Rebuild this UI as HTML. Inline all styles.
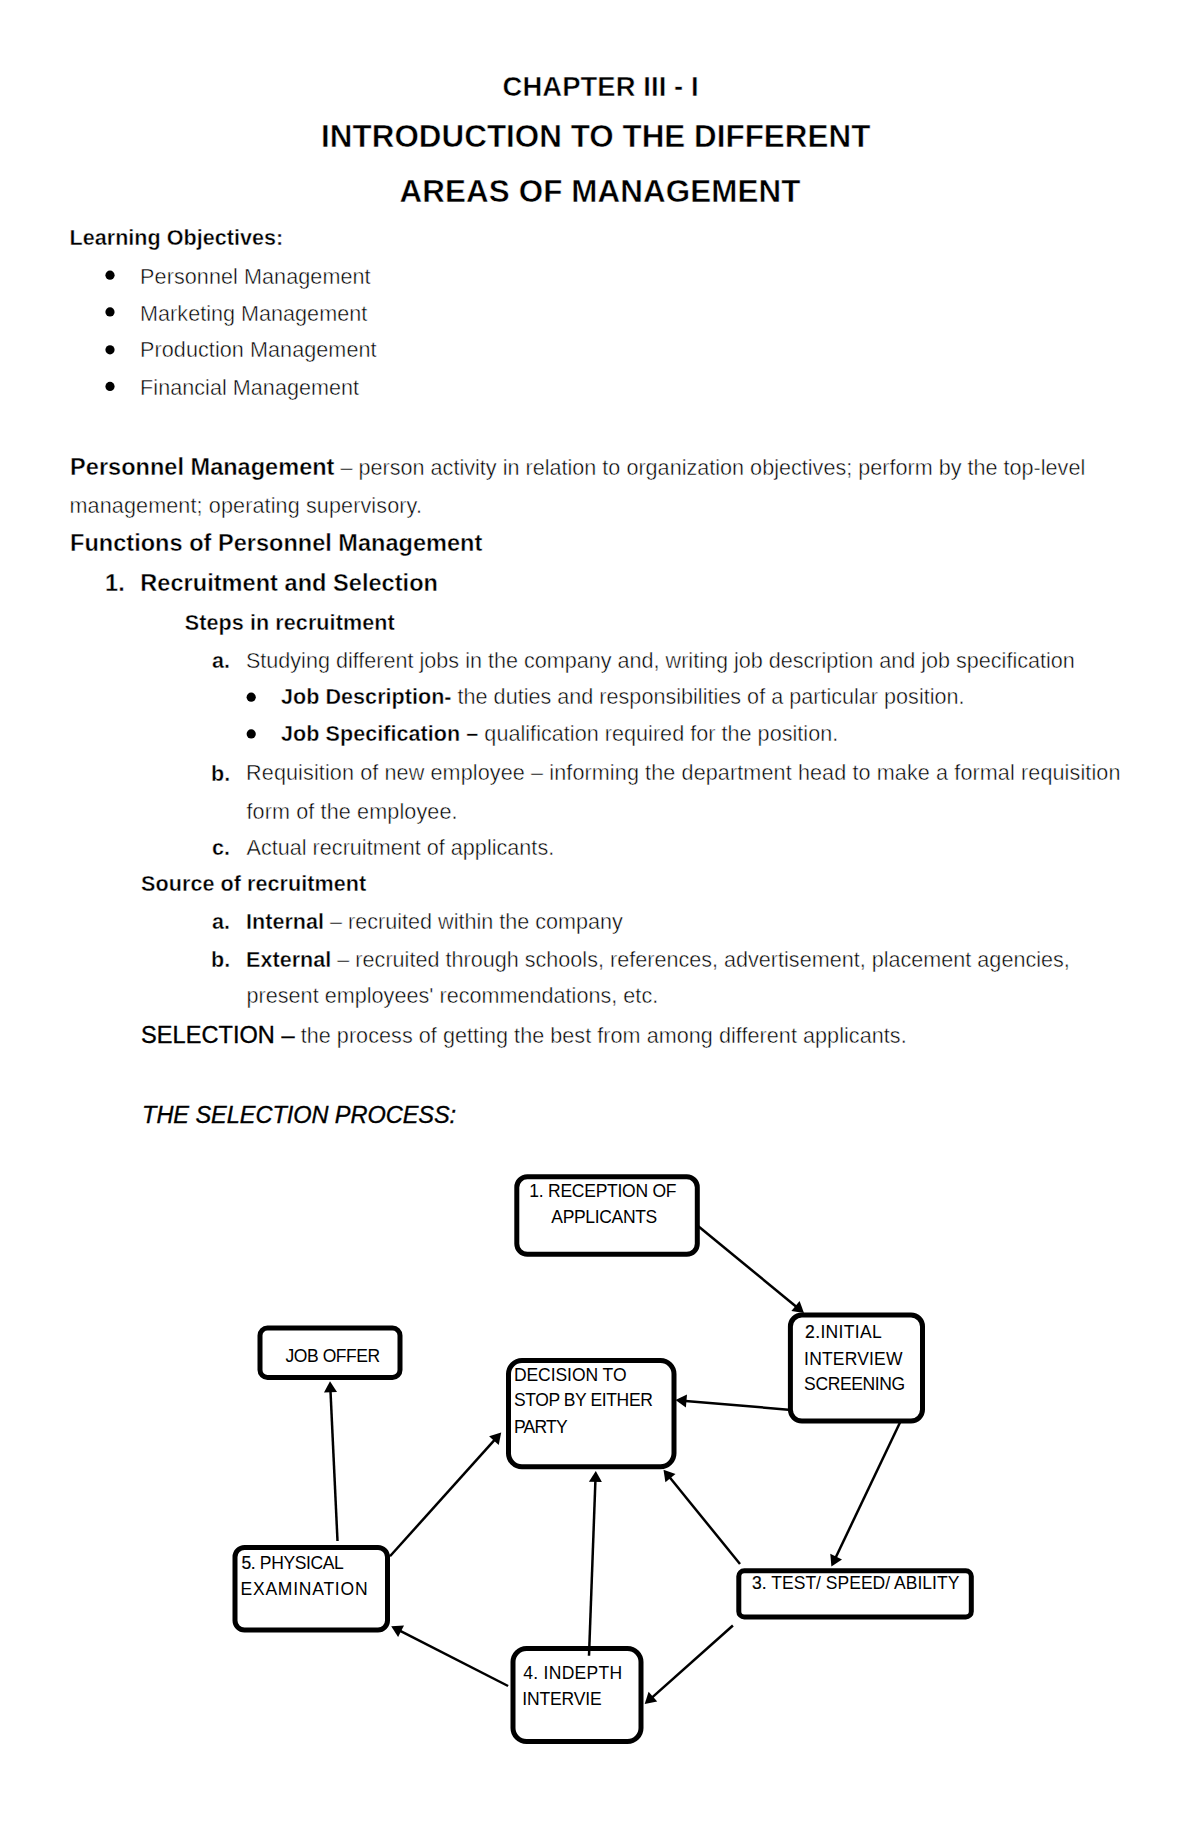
<!DOCTYPE html>
<html><head><meta charset="utf-8"><style>
html,body{margin:0;padding:0;background:#fff;}
body{width:1200px;height:1835px;position:relative;overflow:hidden;font-family:"Liberation Sans",sans-serif;color:#000;}
.l{position:absolute;white-space:nowrap;line-height:1.15;}
.l i{display:inline-block;width:0;height:0;}
.l{-webkit-text-stroke:0.4px #fff;}
.r{-webkit-text-stroke:0.45px #fff;}
.r b{-webkit-text-stroke:0.4px #fff;}
.t{-webkit-text-stroke:0.5px #fff;}
.d{-webkit-text-stroke:0;}
.d b{font-weight:normal;-webkit-text-stroke:0.2px #000;}
svg{position:absolute;left:0;top:0;}
</style></head><body>

<svg width="1200" height="1835" viewBox="0 0 1200 1835">
<circle cx="110" cy="275.2" r="4.6" fill="#000"/>
<circle cx="110" cy="311.9" r="4.6" fill="#000"/>
<circle cx="110" cy="349.8" r="4.6" fill="#000"/>
<circle cx="110" cy="386.4" r="4.6" fill="#000"/>
<circle cx="251.2" cy="697.2" r="4.6" fill="#000"/>
<circle cx="251.2" cy="733.9" r="4.6" fill="#000"/>
<rect x="516.8" y="1176.8" width="180.5" height="77.5" rx="10.5" ry="10.5" fill="none" stroke="#000" stroke-width="5"/>
<rect x="790.4" y="1315.0" width="132.1" height="106.1" rx="11.5" ry="11.5" fill="none" stroke="#000" stroke-width="5"/>
<rect x="260.0" y="1328.0" width="140.0" height="49.5" rx="7.5" ry="7.5" fill="none" stroke="#000" stroke-width="5"/>
<rect x="508.5" y="1360.6" width="165.5" height="106.1" rx="13.5" ry="13.5" fill="none" stroke="#000" stroke-width="5"/>
<rect x="235.0" y="1547.5" width="152.5" height="82.5" rx="9.5" ry="9.5" fill="none" stroke="#000" stroke-width="5"/>
<rect x="738.8" y="1570.8" width="232.5" height="46.1" rx="5.5" ry="5.5" fill="none" stroke="#000" stroke-width="5"/>
<rect x="513.0" y="1648.5" width="128.0" height="93.0" rx="13.5" ry="13.5" fill="none" stroke="#000" stroke-width="5"/>
<line x1="698" y1="1226" x2="796.3" y2="1306.7" stroke="#000" stroke-width="2.5"/>
<polygon points="804.0,1313.0 791.4,1311.0 799.6,1301.0" fill="#000"/>
<line x1="788.4" y1="1409.7" x2="685.5" y2="1400.9" stroke="#000" stroke-width="2.5"/>
<polygon points="675.5,1400.0 687.0,1394.5 685.9,1407.4" fill="#000"/>
<line x1="900" y1="1422.5" x2="835.7" y2="1557.5" stroke="#000" stroke-width="2.5"/>
<polygon points="831.4,1566.5 830.3,1553.8 842.0,1559.4" fill="#000"/>
<line x1="740" y1="1564" x2="669.8" y2="1477.5" stroke="#000" stroke-width="2.5"/>
<polygon points="663.5,1469.7 675.5,1474.1 665.4,1482.3" fill="#000"/>
<line x1="732.9" y1="1625.5" x2="652.2" y2="1697.4" stroke="#000" stroke-width="2.5"/>
<polygon points="644.7,1704.0 648.6,1691.8 657.2,1701.5" fill="#000"/>
<line x1="589" y1="1655.7" x2="595.4" y2="1480.9" stroke="#000" stroke-width="2.5"/>
<polygon points="595.8,1470.9 601.9,1482.1 588.9,1481.7" fill="#000"/>
<line x1="508.1" y1="1686" x2="400.2" y2="1630.8" stroke="#000" stroke-width="2.5"/>
<polygon points="391.2,1626.2 404.0,1625.5 398.1,1637.0" fill="#000"/>
<line x1="390" y1="1556.25" x2="494.6" y2="1439.9" stroke="#000" stroke-width="2.5"/>
<polygon points="501.2,1432.5 498.7,1445.0 489.1,1436.3" fill="#000"/>
<line x1="337.5" y1="1541" x2="330.5" y2="1391.2" stroke="#000" stroke-width="2.5"/>
<polygon points="330.0,1381.2 337.0,1391.9 324.0,1392.5" fill="#000"/>
</svg>
<div class="l  t" id="t1" style="left:502.50px;top:71.00px;font-size:27.45px;letter-spacing:0.071px;font-weight:bold;">CHAPTER III - I</div>
<div class="l  t" id="t2" style="left:321.10px;top:118.60px;font-size:31.37px;letter-spacing:0.036px;font-weight:bold;">INTRODUCTION TO THE DIFFERENT</div>
<div class="l  t" id="t3" style="left:399.50px;top:173.80px;font-size:31.37px;letter-spacing:0.112px;font-weight:bold;">AREAS OF MANAGEMENT</div>
<div class="l " id="lo" style="left:69.50px;top:226.31px;font-size:21.57px;letter-spacing:0.027px;font-weight:bold;">Learning Objectives:</div>
<div class="l r" id="o1" style="left:140.10px;top:264.75px;font-size:21.57px;letter-spacing:0.081px;">Personnel Management</div>
<div class="l r" id="o2" style="left:140.10px;top:301.81px;font-size:21.57px;letter-spacing:0.029px;">Marketing Management</div>
<div class="l r" id="o3" style="left:140.10px;top:338.00px;font-size:21.57px;letter-spacing:0.075px;">Production Management</div>
<div class="l r" id="o4" style="left:140.10px;top:376.00px;font-size:21.57px;letter-spacing:0.043px;">Financial Management</div>
<div class="l r" id="p1" style="left:70.10px;top:453.50px;font-size:21.57px;letter-spacing:0.020px;"><b style='font-size:23.53px'>Personnel Management</b> – person activity in relation to organization objectives; perform by the top-level</div>
<div class="l r" id="p2" style="left:69.50px;top:493.61px;font-size:21.57px;letter-spacing:0.121px;">management; operating supervisory.</div>
<div class="l " id="f1" style="left:70.10px;top:529.51px;font-size:23.53px;letter-spacing:0.018px;font-weight:bold;">Functions of Personnel Management</div>
<div class="l " id="n1" style="left:105.10px;top:570.31px;font-size:23.53px;letter-spacing:0.000px;font-weight:bold;">1.</div>
<div class="l " id="n1t" style="left:140.30px;top:570.31px;font-size:23.53px;letter-spacing:0.042px;font-weight:bold;">Recruitment and Selection</div>
<div class="l " id="s1" style="left:184.70px;top:610.50px;font-size:21.57px;letter-spacing:0.080px;font-weight:bold;">Steps in recruitment</div>
<div class="l " id="a1" style="left:211.90px;top:649.00px;font-size:21.57px;letter-spacing:0.000px;font-weight:bold;">a.</div>
<div class="l r" id="a1t" style="left:245.90px;top:648.50px;font-size:21.57px;letter-spacing:0.012px;">Studying different jobs in the company and, writing job description and job specification</div>
<div class="l r" id="j1" style="left:281.10px;top:685.00px;font-size:21.57px;letter-spacing:0.021px;"><b>Job Description-</b> the duties and responsibilities of a particular position.</div>
<div class="l r" id="j2" style="left:281.10px;top:721.91px;font-size:21.57px;letter-spacing:0.038px;"><b>Job Specification –</b> qualification required for the position.</div>
<div class="l " id="b1" style="left:211.10px;top:761.61px;font-size:21.57px;letter-spacing:0.000px;font-weight:bold;">b.</div>
<div class="l r" id="b1t" style="left:246.10px;top:761.31px;font-size:21.57px;letter-spacing:0.117px;">Requisition of new employee – informing the department head to make a formal requisition</div>
<div class="l r" id="fm" style="left:246.50px;top:799.75px;font-size:21.57px;letter-spacing:0.125px;">form of the employee.</div>
<div class="l " id="c1" style="left:212.10px;top:836.00px;font-size:21.57px;letter-spacing:0.000px;font-weight:bold;">c.</div>
<div class="l r" id="c1t" style="left:246.50px;top:836.00px;font-size:21.57px;letter-spacing:0.027px;">Actual recruitment of applicants.</div>
<div class="l " id="sr" style="left:141.10px;top:872.25px;font-size:21.57px;letter-spacing:0.050px;font-weight:bold;">Source of recruitment</div>
<div class="l " id="ia" style="left:212.10px;top:909.75px;font-size:21.57px;letter-spacing:0.000px;font-weight:bold;">a.</div>
<div class="l r" id="iat" style="left:246.10px;top:909.75px;font-size:21.57px;letter-spacing:0.010px;"><b>Internal</b> – recruited within the company</div>
<div class="l " id="eb" style="left:211.10px;top:947.91px;font-size:21.57px;letter-spacing:0.000px;font-weight:bold;">b.</div>
<div class="l r" id="ebt" style="left:246.10px;top:947.91px;font-size:21.57px;letter-spacing:0.018px;"><b>External</b> – recruited through schools, references, advertisement, placement agencies,</div>
<div class="l r" id="pr" style="left:246.50px;top:984.00px;font-size:21.57px;letter-spacing:0.033px;">present employees' recommendations, etc.</div>
<div class="l r" id="se" style="left:141.10px;top:1021.91px;font-size:21.57px;letter-spacing:0.055px;"><span style='font-size:23.53px;color:#000;-webkit-text-stroke:0.35px #000'>SELECTION –</span> the process of getting the best from among different applicants.</div>
<div class="l " id="ts" style="left:142.10px;top:1102.31px;font-size:23.53px;letter-spacing:-0.044px;font-style:italic;-webkit-text-stroke:0.35px #000;">THE SELECTION PROCESS:</div>
<div class="l d" id="d1a" style="left:529.30px;top:1180.71px;font-size:17.5px;letter-spacing:-0.248px;">1. RECEPTION OF</div>
<div class="l d" id="d1b" style="left:551.30px;top:1207.31px;font-size:17.5px;letter-spacing:-0.328px;">APPLICANTS</div>
<div class="l d" id="d2a" style="left:805.10px;top:1321.51px;font-size:17.5px;letter-spacing:0.340px;"><b>2.</b>INITIAL</div>
<div class="l d" id="d2b" style="left:804.10px;top:1348.61px;font-size:17.5px;letter-spacing:0.180px;">INTERVIEW</div>
<div class="l d" id="d2c" style="left:804.10px;top:1373.61px;font-size:17.5px;letter-spacing:-0.375px;">SCREENING</div>
<div class="l d" id="dj" style="left:285.50px;top:1346.01px;font-size:17.5px;letter-spacing:-0.434px;">JOB OFFER</div>
<div class="l d" id="dd1" style="left:513.90px;top:1364.51px;font-size:17.5px;letter-spacing:-0.050px;">DECISION TO</div>
<div class="l d" id="dd2" style="left:513.90px;top:1389.61px;font-size:17.5px;letter-spacing:-0.387px;">STOP BY EITHER</div>
<div class="l d" id="dd3" style="left:513.90px;top:1416.51px;font-size:17.5px;letter-spacing:-0.750px;">PARTY</div>
<div class="l d" id="d5a" style="left:241.50px;top:1552.76px;font-size:17.5px;letter-spacing:-0.375px;"><b>5.</b> PHYSICAL</div>
<div class="l d" id="d5b" style="left:240.50px;top:1579.01px;font-size:17.5px;letter-spacing:0.775px;">EXAMINATION</div>
<div class="l d" id="d3" style="left:752.10px;top:1573.01px;font-size:17.5px;letter-spacing:0.018px;"><b>3.</b> TEST/ SPEED/ ABILITY</div>
<div class="l d" id="d4a" style="left:523.30px;top:1662.71px;font-size:17.5px;letter-spacing:0.282px;">4. INDEPTH</div>
<div class="l d" id="d4b" style="left:522.30px;top:1688.61px;font-size:17.5px;letter-spacing:-0.146px;">INTERVIE</div>
</body></html>
